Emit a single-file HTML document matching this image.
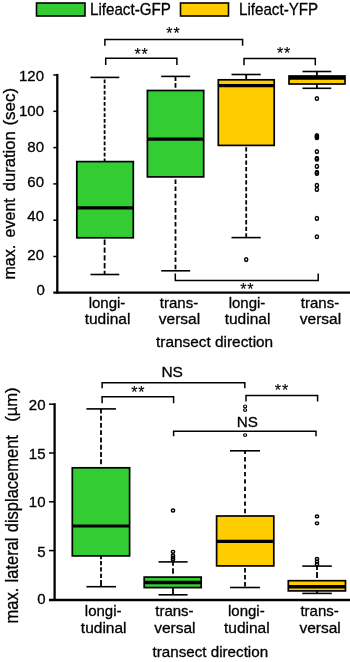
<!DOCTYPE html>
<html><head><meta charset="utf-8"><title>Lifeact boxplots</title>
<style>
html,body{margin:0;padding:0;background:#fff;}
svg{display:block;}
text{font-family:"Liberation Sans",sans-serif;fill:#000;stroke:#000;stroke-width:0.3px;}
.ax{stroke:#000;stroke-width:2.3;stroke-linecap:butt;fill:none}
.tk{stroke:#000;stroke-width:1.5;fill:none}
.ln{stroke:#000;stroke-width:1.6;fill:none}
.wh{stroke:#000;stroke-width:1.8;fill:none}
.br{stroke:#000;stroke-width:1.5;fill:none;stroke-linejoin:miter}
.pt{stroke:#000;stroke-width:1.45;fill:none}
</style></head>
<body>
<svg width="350" height="662" viewBox="0 0 350 662">
<rect width="350" height="662" fill="#fff"/>
<rect x="36.5" y="3" width="48.5" height="13" fill="#33cc33" stroke="#000" stroke-width="1.6"/>
<text transform="translate(90.0,15.0) scale(0.925,1)" text-anchor="start" font-size="16.4" >Lifeact-GFP</text>
<rect x="180.5" y="3" width="48" height="13" fill="#ffcc00" stroke="#000" stroke-width="1.6"/>
<text transform="translate(239.0,15.0) scale(0.925,1)" text-anchor="start" font-size="16.4" >Lifeact-YFP</text>
<line x1="57.3" y1="73.9" x2="57.3" y2="293.7" class="ax"/>
<line x1="53.3" y1="292.7" x2="350" y2="292.7" class="ax"/>
<line x1="53.3" y1="75.00" x2="57.3" y2="75.00" class="tk"/>
<line x1="53.3" y1="111.30" x2="57.3" y2="111.30" class="tk"/>
<line x1="53.3" y1="147.60" x2="57.3" y2="147.60" class="tk"/>
<line x1="53.3" y1="183.90" x2="57.3" y2="183.90" class="tk"/>
<line x1="53.3" y1="220.20" x2="57.3" y2="220.20" class="tk"/>
<line x1="53.3" y1="256.50" x2="57.3" y2="256.50" class="tk"/>
<text x="44.0" y="80.90" text-anchor="end" font-size="15" >120</text>
<text x="44.0" y="115.90" text-anchor="end" font-size="15" >100</text>
<text x="44.0" y="151.50" text-anchor="end" font-size="15" >80</text>
<text x="44.0" y="187.20" text-anchor="end" font-size="15" >60</text>
<text x="44.0" y="221.20" text-anchor="end" font-size="15" >40</text>
<text x="44.0" y="259.60" text-anchor="end" font-size="15" >20</text>
<text x="44.9" y="295.20" text-anchor="end" font-size="15" >0</text>
<path d="M104.6 79.46V83.16 M104.6 85.10V88.80 M104.6 90.74V94.44 M104.6 96.38V100.08 M104.6 102.02V105.72 M104.6 107.66V111.36 M104.6 113.30V117.00 M104.6 118.94V122.64 M104.6 124.58V128.28 M104.6 130.22V133.92 M104.6 135.86V139.56 M104.6 141.50V145.20 M104.6 147.14V150.84 M104.6 152.78V156.48 M104.6 158.42V161.60" class="wh"/>
<path d="M104.6 239.60V245.00 M104.6 247.40V252.80 M104.6 255.20V260.60 M104.6 263.00V268.40 M104.6 270.80V274.50" class="wh"/>
<line x1="90.5" y1="77.4" x2="119.3" y2="77.4" class="ln"/>
<line x1="90.5" y1="274.5" x2="119.3" y2="274.5" class="ln"/>
<rect x="76.8" y="161.6" width="56.50" height="76.20" fill="#33cc33" stroke="#000" stroke-width="1.7"/>
<line x1="76.8" y1="207.8" x2="133.3" y2="207.8" stroke="#000" stroke-width="3.2"/>
<path d="M175.5 76.40V80.90 M175.5 82.90V87.70" class="wh"/>
<path d="M175.5 179.50V184.00 M175.5 186.60V191.10 M175.5 193.70V198.20 M175.5 200.80V205.30 M175.5 207.90V212.40 M175.5 215.00V219.50 M175.5 222.10V226.60 M175.5 229.20V233.70 M175.5 236.30V240.80 M175.5 243.40V247.90 M175.5 250.50V255.00 M175.5 257.60V262.10 M175.5 264.70V269.20" class="wh"/>
<line x1="161.2" y1="76.4" x2="190.2" y2="76.4" class="ln"/>
<line x1="161.2" y1="270.8" x2="190.2" y2="270.8" class="ln"/>
<rect x="147.4" y="90.5" width="56.30" height="86.40" fill="#33cc33" stroke="#000" stroke-width="1.7"/>
<line x1="147.4" y1="139.2" x2="203.7" y2="139.2" stroke="#000" stroke-width="3.2"/>
<line x1="246.2" y1="74.5" x2="246.2" y2="79.8" class="wh"/>
<path d="M246.2 147.17V151.47 M246.2 153.80V158.10 M246.2 160.43V164.73 M246.2 167.06V171.36 M246.2 173.69V177.99 M246.2 180.32V184.62 M246.2 186.95V191.25 M246.2 193.58V197.88 M246.2 200.21V204.51 M246.2 206.84V211.14 M246.2 213.47V217.77 M246.2 220.10V224.40 M246.2 226.73V231.03 M246.2 233.36V237.60" class="wh"/>
<line x1="231.5" y1="74.5" x2="260.7" y2="74.5" class="ln"/>
<line x1="231.5" y1="237.6" x2="260.7" y2="237.6" class="ln"/>
<rect x="218.3" y="79.8" width="55.90" height="65.60" fill="#ffcc00" stroke="#000" stroke-width="1.7"/>
<line x1="218.3" y1="85.6" x2="274.2" y2="85.6" stroke="#000" stroke-width="3.2"/>
<line x1="316.9" y1="71.5" x2="316.9" y2="76" class="wh"/>
<line x1="316.9" y1="84.0" x2="316.9" y2="88.3" class="wh"/>
<line x1="302.5" y1="71.5" x2="331.3" y2="71.5" class="ln"/>
<line x1="302.5" y1="88.3" x2="331.3" y2="88.3" class="ln"/>
<rect x="289" y="76" width="56.00" height="8.00" fill="#ffcc00" stroke="#000" stroke-width="1.7"/>
<line x1="289" y1="77.9" x2="345" y2="77.9" stroke="#000" stroke-width="3.7"/>
<ellipse cx="246.2" cy="259.6" rx="1.55" ry="1.85" class="pt"/>
<ellipse cx="316.9" cy="98.6" rx="1.6" ry="1.8" class="pt"/>
<ellipse cx="316.9" cy="135.6" rx="1.6" ry="1.8" class="pt"/>
<ellipse cx="316.9" cy="136.7" rx="1.6" ry="1.8" class="pt"/>
<ellipse cx="316.9" cy="137.8" rx="1.6" ry="1.8" class="pt"/>
<ellipse cx="316.9" cy="151.6" rx="1.6" ry="1.8" class="pt"/>
<ellipse cx="316.9" cy="158.2" rx="1.6" ry="1.8" class="pt"/>
<ellipse cx="316.9" cy="159.3" rx="1.6" ry="1.8" class="pt"/>
<ellipse cx="316.9" cy="166.4" rx="1.6" ry="1.8" class="pt"/>
<ellipse cx="316.9" cy="172.2" rx="1.6" ry="1.8" class="pt"/>
<ellipse cx="316.9" cy="173.4" rx="1.6" ry="1.8" class="pt"/>
<ellipse cx="316.9" cy="185.3" rx="1.6" ry="1.8" class="pt"/>
<ellipse cx="316.9" cy="189.4" rx="1.6" ry="1.8" class="pt"/>
<ellipse cx="316.9" cy="218.4" rx="1.6" ry="1.8" class="pt"/>
<ellipse cx="316.9" cy="236.8" rx="1.6" ry="1.8" class="pt"/>
<polyline points="104.9,45.8 104.9,39.5 242.6,39.5 242.6,45.8" class="br"/>
<polyline points="105.7,65 105.7,58.3 176.9,58.3 176.9,65" class="br"/>
<polyline points="244,65.3 244,58.5 315.3,58.5 315.3,65.3" class="br"/>
<polyline points="175.3,273.5 175.3,280.4 318.2,280.4 318.2,273.5" class="br"/>
<text x="173.40" y="39.35" text-anchor="middle" font-size="16" letter-spacing="0.8" style="stroke-width:0.15px">**</text>
<text x="141.50" y="59.75" text-anchor="middle" font-size="16" letter-spacing="0.8" style="stroke-width:0.15px">**</text>
<text x="284.10" y="58.75" text-anchor="middle" font-size="16" letter-spacing="0.8" style="stroke-width:0.15px">**</text>
<text x="247.20" y="294.75" text-anchor="middle" font-size="16" letter-spacing="0.8" style="stroke-width:0.15px">**</text>
<text x="107" y="307.8" text-anchor="middle" font-size="15" >longi-</text>
<text x="107.5" y="323.8" text-anchor="middle" font-size="15.5" >tudinal</text>
<text x="179" y="307.8" text-anchor="middle" font-size="15" >trans-</text>
<text x="179.5" y="323.8" text-anchor="middle" font-size="15.5" >versal</text>
<text x="247" y="307.8" text-anchor="middle" font-size="15" >longi-</text>
<text x="247.5" y="323.8" text-anchor="middle" font-size="15.5" >tudinal</text>
<text x="320" y="307.8" text-anchor="middle" font-size="15" >trans-</text>
<text x="320.5" y="323.8" text-anchor="middle" font-size="15.5" >versal</text>
<text x="214.6" y="347.4" text-anchor="middle" font-size="15.4" >transect direction</text>
<text transform="translate(14.6,279.5) rotate(-90)" font-size="16" word-spacing="3">max. event</text>
<text transform="translate(14.6,191.2) rotate(-90)" font-size="16.6">duration</text>
<text transform="translate(14.6,125.6) rotate(-90)" font-size="17">(sec)</text>
<line x1="54.6" y1="403.2" x2="54.6" y2="601.0" class="ax"/>
<line x1="49" y1="600.0" x2="350" y2="600.0" class="ax"/>
<line x1="49" y1="404.20" x2="54.6" y2="404.20" class="tk"/>
<line x1="49" y1="453.00" x2="54.6" y2="453.00" class="tk"/>
<line x1="49" y1="501.80" x2="54.6" y2="501.80" class="tk"/>
<line x1="49" y1="550.60" x2="54.6" y2="550.60" class="tk"/>
<text x="45.5" y="409.50" text-anchor="end" font-size="15" >20</text>
<text x="45.5" y="458.90" text-anchor="end" font-size="15" >15</text>
<text x="45.5" y="506.90" text-anchor="end" font-size="15" >10</text>
<text x="45.5" y="556.70" text-anchor="end" font-size="15" >5</text>
<text x="45.5" y="604.10" text-anchor="end" font-size="15" >0</text>
<path d="M101 408.90V413.60 M101 415.70V420.60 M101 422.96V427.86 M101 430.22V435.12 M101 437.48V442.38 M101 444.74V449.64 M101 452.00V456.90 M101 459.26V464.16" class="wh"/>
<path d="M101 555.90V559.30 M101 561.00V565.30 M101 567.30V571.60 M101 573.70V578.00 M101 580.00V586.70" class="wh"/>
<line x1="86.4" y1="408.9" x2="116" y2="408.9" class="ln"/>
<line x1="86.4" y1="586.7" x2="116" y2="586.7" class="ln"/>
<rect x="72.3" y="467.8" width="57.30" height="88.10" fill="#33cc33" stroke="#000" stroke-width="1.7"/>
<line x1="72.3" y1="526" x2="129.6" y2="526" stroke="#000" stroke-width="3.2"/>
<path d="M173 561.90V565.80 M173 568.20V573.80" class="wh"/>
<line x1="173" y1="587.6" x2="173" y2="594.8" class="wh"/>
<line x1="158.5" y1="561.9" x2="187.6" y2="561.9" class="ln"/>
<line x1="158.5" y1="594.8" x2="187.6" y2="594.8" class="ln"/>
<rect x="144.2" y="577.1" width="57.00" height="10.50" fill="#33cc33" stroke="#000" stroke-width="1.7"/>
<line x1="144.2" y1="582.5" x2="201.2" y2="582.5" stroke="#000" stroke-width="3.6"/>
<path d="M245 450.80V454.01 M245 457.10V461.40 M245 464.49V468.79 M245 471.88V476.18 M245 479.27V483.57 M245 486.66V490.96 M245 494.05V498.35 M245 501.44V505.74 M245 508.83V513.13" class="wh"/>
<path d="M245 568.10V572.60 M245 575.10V579.60 M245 582.10V586.60" class="wh"/>
<line x1="230" y1="450.8" x2="260" y2="450.8" class="ln"/>
<line x1="230" y1="587.5" x2="260" y2="587.5" class="ln"/>
<rect x="216.6" y="516" width="57.20" height="49.90" fill="#ffcc00" stroke="#000" stroke-width="1.7"/>
<line x1="216.6" y1="541.4" x2="273.8" y2="541.4" stroke="#000" stroke-width="3.2"/>
<path d="M317 566.00V570.00 M317 572.00V578.00" class="wh"/>
<line x1="317" y1="590.9" x2="317" y2="593.4" class="wh"/>
<line x1="302.3" y1="566.1" x2="331.8" y2="566.1" class="ln"/>
<line x1="302.3" y1="593.4" x2="331.8" y2="593.4" class="ln"/>
<rect x="288.3" y="580.7" width="57.20" height="10.20" fill="#ffcc00" stroke="#000" stroke-width="1.7"/>
<line x1="288.3" y1="586.8" x2="345.5" y2="586.8" stroke="#000" stroke-width="3.4"/>
<ellipse cx="173" cy="510.5" rx="1.65" ry="1.45" class="pt"/>
<ellipse cx="173" cy="551.8" rx="1.65" ry="1.45" class="pt"/>
<ellipse cx="173" cy="555.6" rx="1.65" ry="1.45" class="pt"/>
<ellipse cx="173" cy="557.6" rx="1.65" ry="1.45" class="pt"/>
<ellipse cx="173" cy="559.4" rx="1.65" ry="1.45" class="pt"/>
<ellipse cx="245.1" cy="406.4" rx="1.55" ry="1.35" class="pt" style="stroke-width:1.1"/>
<ellipse cx="245.1" cy="410.1" rx="1.55" ry="1.35" class="pt" style="stroke-width:1.1"/>
<ellipse cx="245.1" cy="435.1" rx="1.55" ry="1.35" class="pt" style="stroke-width:1.1"/>
<ellipse cx="317" cy="516.4" rx="1.65" ry="1.4" class="pt"/>
<ellipse cx="317" cy="523.3" rx="1.65" ry="1.4" class="pt"/>
<ellipse cx="317" cy="558.9" rx="1.65" ry="1.4" class="pt"/>
<ellipse cx="317" cy="561.8" rx="1.65" ry="1.4" class="pt"/>
<ellipse cx="317" cy="564.2" rx="1.65" ry="1.4" class="pt"/>
<polyline points="102.1,388.3 102.1,382.8 244.8,382.8 244.8,388.3" class="br"/>
<polyline points="102.1,403.2 102.1,396.8 173.6,396.8 173.6,403.2" class="br"/>
<polyline points="246,401.5 246,395.6 317.6,395.6 317.6,401.5" class="br"/>
<polyline points="173.6,436.3 173.6,431.2 316,431.2 316,436.3" class="br"/>
<text x="172.2" y="377.3" text-anchor="middle" font-size="15.5" >NS</text>
<text x="247.3" y="427.4" text-anchor="middle" font-size="15.2" >NS</text>
<text x="138.30" y="398.25" text-anchor="middle" font-size="16" letter-spacing="0.8" style="stroke-width:0.15px">**</text>
<text x="281.90" y="396.15" text-anchor="middle" font-size="16" letter-spacing="0.8" style="stroke-width:0.15px">**</text>
<text x="103.2" y="616.4" text-anchor="middle" font-size="15" >longi-</text>
<text x="103.7" y="632.9" text-anchor="middle" font-size="15.5" >tudinal</text>
<text x="174.4" y="616.4" text-anchor="middle" font-size="15" >trans-</text>
<text x="174.9" y="632.9" text-anchor="middle" font-size="15.5" >versal</text>
<text x="246.3" y="616.4" text-anchor="middle" font-size="15" >longi-</text>
<text x="246.8" y="632.9" text-anchor="middle" font-size="15.5" >tudinal</text>
<text x="319.6" y="616.4" text-anchor="middle" font-size="15" >trans-</text>
<text x="320.1" y="632.9" text-anchor="middle" font-size="15.5" >versal</text>
<text x="210.3" y="656.6" text-anchor="middle" font-size="15.2" >transect direction</text>
<text transform="translate(17.5,623.4) rotate(-90) scale(0.868,1)" font-size="19" word-spacing="0.8">max. lateral displacement</text>
<text transform="translate(17.3,421.8) rotate(-90)" font-size="16.6">(µm)</text>
</svg>
</body></html>
